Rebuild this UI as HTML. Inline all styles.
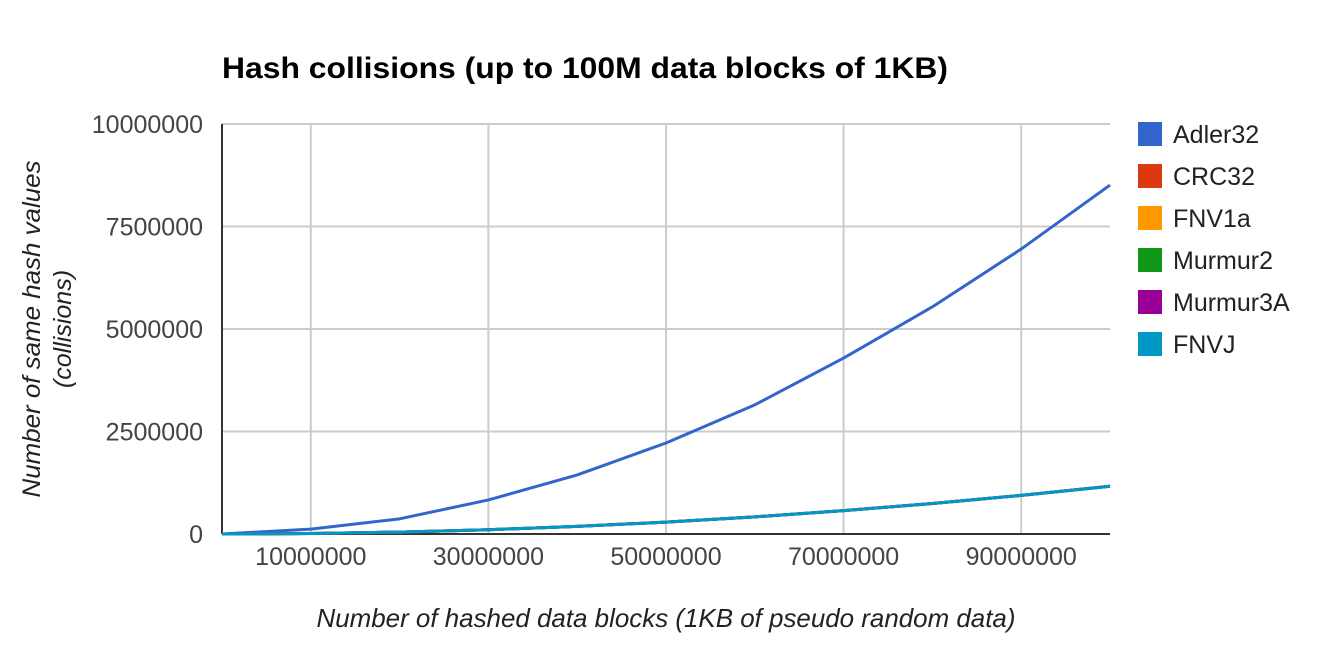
<!DOCTYPE html>
<html><head><meta charset="utf-8"><style>
body{margin:0;background:#fff;}
svg text{font-family:"Liberation Sans",Arial,sans-serif;}
</style></head><body>
<svg id="chart" width="1326" height="651">
<text x="222" y="78" font-size="30" font-weight="bold" fill="#000" textLength="726" lengthAdjust="spacingAndGlyphs">Hash collisions (up to 100M data blocks of 1KB)</text>
<g id="grid"></g><g id="series"></g><g id="legend"></g>
<text transform="translate(40,329) rotate(-90)" text-anchor="middle" font-size="25" font-style="italic" fill="#222"><tspan x="0" dy="0" textLength="337" lengthAdjust="spacingAndGlyphs">Number of same hash values</tspan><tspan x="0" dy="31">(collisions)</tspan></text>
<text x="666" y="627" text-anchor="middle" font-size="26" font-style="italic" fill="#222" textLength="699" lengthAdjust="spacingAndGlyphs">Number of hashed data blocks (1KB of pseudo random data)</text>
</svg>
<script>
const xValues=[0,10,20,30,40,50,60,70,80,90,100];
const adler32=[0,0.12,0.37,0.83,1.44,2.22,3.15,4.29,5.54,6.95,8.51];
const crc32=[0,0.012,0.047,0.105,0.186,0.291,0.419,0.57,0.745,0.943,1.164];
const fnv1a=[0,0.012,0.047,0.105,0.186,0.291,0.419,0.57,0.745,0.943,1.164];
const murmur2=[0,0.012,0.047,0.105,0.186,0.291,0.419,0.57,0.745,0.943,1.164];
const murmur3a=[0,0.012,0.047,0.105,0.186,0.291,0.419,0.57,0.745,0.943,1.164];
const fnvj=[0,0.012,0.047,0.105,0.186,0.291,0.419,0.57,0.745,0.943,1.164];
const seriesNames=["Adler32","CRC32","FNV1a","Murmur2","Murmur3A","FNVJ"];
const yTicks=[0,2.5,5,7.5,10];
const yTickLabels=["0","2500000","5000000","7500000","10000000"];
const xTicks=[10,30,50,70,90];
const xTickLabels=["10000000","30000000","50000000","70000000","90000000"];
const colors=["#3366cc","#dc3912","#ff9900","#109618","#990099","#0099c6"];
const allSeries=[adler32,crc32,fnv1a,murmur2,murmur3a,fnvj];
const NS="http://www.w3.org/2000/svg";
const X0=222,X1=1110,Y0=534,Y1=124;
const xs=v=>X0+(v/100)*(X1-X0);
const ys=v=>Y0-(v/10)*(Y0-Y1);
function mk(t,a,p){const e=document.createElementNS(NS,t);for(const k in a)e.setAttribute(k,a[k]);p.appendChild(e);return e;}
const grid=document.getElementById('grid');
yTicks.forEach((t,i)=>{
 if(t>0){const l=mk('line',{x1:X0,x2:X1,y1:ys(t),y2:ys(t),stroke:'#cccccc','stroke-width':2},grid);
 
 }
 const tx=mk('text',{x:203,y:ys(t)+9,'text-anchor':'end','font-size':25,fill:'#444'},grid);tx.textContent=yTickLabels[i];
 
 
});
xTicks.forEach((t,i)=>{
 const l=mk('line',{x1:xs(t),x2:xs(t),y1:Y1,y2:Y0,stroke:'#cccccc','stroke-width':2},grid);
 
 
 const tx=mk('text',{x:xs(t),y:565,'text-anchor':'middle','font-size':25,fill:'#444'},grid);tx.textContent=xTickLabels[i];
 
 
});
const ax=mk('line',{x1:X0,x2:X0,y1:Y1,y2:Y0,stroke:'#333','stroke-width':2},grid);


const bx=mk('line',{x1:X0,x2:X1,y1:Y0,y2:Y0,stroke:'#333','stroke-width':2},grid);


const sg=document.getElementById('series');
allSeries.forEach((s,i)=>{
 const d=s.map((v,j)=>(j?'L':'M')+xs(xValues[j])+','+ys(v)).join(' ');
 const p=mk('path',{d:d,fill:'none',stroke:colors[i],'stroke-width':3,'stroke-linejoin':'round'},sg);
 
 
});
const lg=document.getElementById('legend');
seriesNames.forEach((n,i)=>{
 const y=122+i*42;
 const r=mk('rect',{x:1138,y:y,width:24,height:24,fill:colors[i]},lg);
 
 
 const t=mk('text',{x:1173,y:y+21,'font-size':25,fill:'#222'},lg);t.textContent=n;
 
 
});
</script>
</body></html>
